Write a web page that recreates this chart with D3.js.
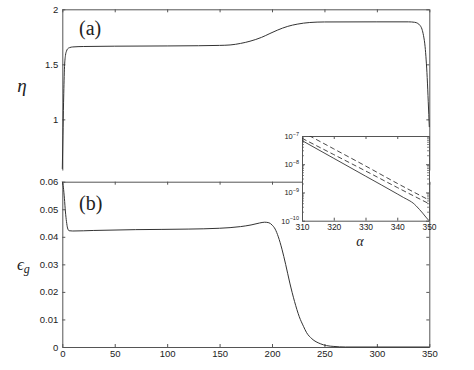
<!DOCTYPE html>
<html>
<head>
<meta charset="utf-8">
<script src="https://cdn.jsdelivr.net/npm/d3@7"></script>
<style>
  html, body { margin: 0; padding: 0; background: #fff; }
  svg { display: block; }
</style>
</head>
<body>
<svg id="chart" width="474" height="370"></svg>
<script>
// panel (a): eta vs x
const etaX = [0, 0.6, 1.2, 2, 3, 4, 5, 7, 10, 20, 50, 100, 130, 150, 160, 170, 179, 190, 198, 205, 215, 224, 236, 250, 300, 330, 336, 339, 341, 343, 344.5, 346, 347, 348, 349, 350];
const etaY = [0.55, 0.85, 1.15, 1.45, 1.58, 1.62, 1.64, 1.652, 1.658, 1.662, 1.665, 1.667, 1.669, 1.672, 1.676, 1.69, 1.71, 1.745, 1.78, 1.81, 1.845, 1.865, 1.88, 1.885, 1.886, 1.886, 1.882, 1.872, 1.855, 1.82, 1.76, 1.66, 1.54, 1.38, 1.16, 0.93];

// panel (b): eps_g vs x
const epsX = [0, 1, 2, 3, 4, 5, 6.5, 10, 30, 70, 120, 150, 170, 180, 188, 193, 197, 200, 203, 206, 209.5, 213, 217, 221.5, 226, 230, 233, 238, 246, 252, 259, 270, 350];
const epsY = [0.06, 0.058, 0.054, 0.049, 0.0455, 0.0432, 0.0422, 0.0421, 0.0423, 0.0426, 0.0428, 0.0431, 0.0437, 0.0443, 0.045, 0.0453, 0.0451, 0.0443, 0.0428, 0.04, 0.0355, 0.03, 0.0232, 0.0165, 0.011, 0.0075, 0.0052, 0.003, 0.0012, 0.0005, 0.0002, 0, 0];

// inset: three curves vs alpha (log scale)
const alphaSolid = [310, 320, 330, 340, 342, 344, 345, 346, 347, 348, 349, 350];
const valSolid = [6.9e-8, 1.62e-8, 3.8e-9, 8.9e-10, 6.6e-10, 5.0e-10, 4.2e-10, 3.3e-10, 2.5e-10, 1.86e-10, 1.35e-10, 1.0e-10];
const alphaDash = [310, 320, 330, 340, 350];
const valDashLow = [8.3e-8, 2.2e-8, 5.8e-9, 1.5e-9, 4.0e-10];
const valDashHigh = [1.41e-7, 3.5e-8, 8.7e-9, 2.1e-9, 5.4e-10];

const xTicks = [0, 50, 100, 150, 200, 250, 300, 350];
const etaTicks = [1, 1.5, 2];
const epsTicks = [0, 0.01, 0.02, 0.03, 0.04, 0.05, 0.06];
const alphaTicks = [310, 320, 330, 340, 350];
const logTicks = [-10, -9, -8, -7];

const svg = d3.select("#chart");
const axisColor = "#555";
const lineColor = "#333";
const tickFont = "'Liberation Sans', Arial, sans-serif";
const serif = "'Liberation Serif', 'DejaVu Serif', serif";

const x = d3.scaleLinear().domain([0, 350]).range([62.3, 429.3]);
const yA = d3.scaleLinear().domain([0.54, 2]).range([170, 9.3]);
const yB = d3.scaleLinear().domain([0, 0.06]).range([347, 181.7]);

function styleAxis(g) {
  g.select(".domain").attr("stroke", axisColor);
  g.selectAll(".tick line").attr("stroke", axisColor);
  g.selectAll(".tick text").attr("fill", "#222").style("font-family", tickFont).style("font-size", "9.5px");
}

// ---- panel (a)
const gA = svg.append("g");
gA.append("g")
  .attr("transform", `translate(${x(0)},0)`)
  .call(d3.axisLeft(yA).tickValues(etaTicks).tickFormat(d3.format("")).tickSizeInner(-3).tickSizeOuter(0).tickPadding(4))
  .call(styleAxis);
gA.append("g")
  .attr("transform", `translate(${x(350)},0)`)
  .call(d3.axisRight(yA).tickValues(etaTicks).tickFormat("").tickSizeInner(-3).tickSizeOuter(0))
  .call(styleAxis);
gA.append("g")
  .attr("transform", `translate(0,${yA(2)})`)
  .call(d3.axisTop(x).tickValues(xTicks).tickFormat("").tickSizeInner(-3).tickSizeOuter(0))
  .call(styleAxis);

const lineA = d3.line().x((d, i) => x(etaX[i])).y(d => yA(d)).curve(d3.curveMonotoneX);
gA.append("path").datum(etaY).attr("d", lineA)
  .attr("fill", "none").attr("stroke", lineColor).attr("stroke-width", 1);

gA.append("text").attr("x", 79).attr("y", 35)
  .style("font-family", serif).style("font-size", "20px").attr("fill", "#222").text("(a)");
gA.append("text").attr("x", 22).attr("y", 92).attr("text-anchor", "middle")
  .style("font-family", serif).style("font-style", "italic").style("font-size", "19px").attr("fill", "#222").text("η");

// ---- panel (b)
const gB = svg.append("g");
gB.append("g")
  .attr("transform", `translate(${x(0)},0)`)
  .call(d3.axisLeft(yB).tickValues(epsTicks).tickFormat(d => d === 0 ? "0" : d3.format(".2f")(d)).tickSizeInner(-3).tickSizeOuter(0).tickPadding(4))
  .call(styleAxis);
gB.append("g")
  .attr("transform", `translate(${x(350)},0)`)
  .call(d3.axisRight(yB).tickValues(epsTicks).tickFormat("").tickSizeInner(-3).tickSizeOuter(0))
  .call(styleAxis);
gB.append("g")
  .attr("transform", `translate(0,${yB(0.06)})`)
  .call(d3.axisTop(x).tickValues(xTicks).tickFormat("").tickSizeInner(-3).tickSizeOuter(0))
  .call(styleAxis);
gB.append("g")
  .attr("transform", `translate(0,${yB(0)})`)
  .call(d3.axisBottom(x).tickValues(xTicks).tickFormat(d3.format("d")).tickSizeInner(-3).tickSizeOuter(0).tickPadding(3))
  .call(styleAxis);

const lineB = d3.line().x((d, i) => x(epsX[i])).y(d => yB(d)).curve(d3.curveMonotoneX);
gB.append("path").datum(epsY).attr("d", lineB)
  .attr("fill", "none").attr("stroke", lineColor).attr("stroke-width", 1);

gB.append("text").attr("x", 79).attr("y", 210)
  .style("font-family", serif).style("font-size", "20px").attr("fill", "#222").text("(b)");
const epsLabel = gB.append("text").attr("x", 17).attr("y", 270)
  .style("font-family", serif).style("font-style", "italic").style("font-size", "17px").attr("fill", "#222");
epsLabel.append("tspan").text("ϵ");
epsLabel.append("tspan").attr("dy", 3).style("font-size", "12px").text("g");

// ---- inset
const xi = d3.scaleLinear().domain([310, 350]).range([302, 429]);
const yi = d3.scaleLog().domain([1e-10, 1e-7]).range([220.7, 136]);

const gI = svg.append("g");
gI.append("rect").attr("x", xi(310)).attr("y", yi(1e-7))
  .attr("width", xi(350) - xi(310)).attr("height", yi(1e-10) - yi(1e-7)).attr("fill", "#fff");

gI.append("clipPath").attr("id", "insetClip").append("rect")
  .attr("x", xi(310)).attr("y", yi(1e-7))
  .attr("width", xi(350) - xi(310)).attr("height", yi(1e-10) - yi(1e-7));

// minor log ticks
const minor = [];
logTicks.slice(0, 3).forEach(p => { for (let m = 2; m <= 9; m++) minor.push(m * Math.pow(10, p)); });
[xi(310), xi(350)].forEach((xx, k) => {
  gI.append("g").selectAll("line").data(minor).join("line")
    .attr("x1", xx).attr("x2", xx + (k === 0 ? 2 : -2))
    .attr("y1", d => yi(d)).attr("y2", d => yi(d))
    .attr("stroke", axisColor).attr("stroke-width", 0.7);
});

gI.append("g")
  .attr("transform", `translate(${xi(310)},0)`)
  .call(d3.axisLeft(yi).tickValues(logTicks.map(p => Math.pow(10, p))).tickFormat("").tickSizeInner(-3).tickSizeOuter(0))
  .call(styleAxis);
gI.append("g")
  .attr("transform", `translate(${xi(350)},0)`)
  .call(d3.axisRight(yi).tickValues(logTicks.map(p => Math.pow(10, p))).tickFormat("").tickSizeInner(-3).tickSizeOuter(0))
  .call(styleAxis);
gI.append("g")
  .attr("transform", `translate(0,${yi(1e-7)})`)
  .call(d3.axisTop(xi).tickValues(alphaTicks).tickFormat("").tickSizeInner(-3).tickSizeOuter(0))
  .call(styleAxis);
gI.append("g")
  .attr("transform", `translate(0,${yi(1e-10)})`)
  .call(d3.axisBottom(xi).tickValues(alphaTicks).tickFormat(d3.format("d")).tickSizeInner(-3).tickSizeOuter(0).tickPadding(3))
  .call(styleAxis)
  .call(g => g.selectAll(".tick text").style("font-size", "8.5px"));

// log tick labels 10^p
const yl = gI.append("g").selectAll("text").data(logTicks).join("text")
  .attr("x", xi(310) - 3).attr("y", d => yi(Math.pow(10, d)) + 3)
  .attr("text-anchor", "end")
  .style("font-family", tickFont).style("font-size", "7.5px").attr("fill", "#222");
yl.append("tspan").text("10");
yl.append("tspan").attr("dy", -3.5).style("font-size", "5.5px").text(d => "\u2212" + Math.abs(d));

const clipped = gI.append("g").attr("clip-path", "url(#insetClip)");
const lineI = xs => d3.line().x((d, i) => xi(xs[i])).y(d => yi(d)).curve(d3.curveMonotoneX);
clipped.append("path").datum(valSolid).attr("d", lineI(alphaSolid))
  .attr("fill", "none").attr("stroke", lineColor).attr("stroke-width", 0.9);
clipped.append("path").datum(valDashLow).attr("d", lineI(alphaDash))
  .attr("fill", "none").attr("stroke", lineColor).attr("stroke-width", 0.9).attr("stroke-dasharray", "5,3");
clipped.append("path").datum(valDashHigh).attr("d", lineI(alphaDash))
  .attr("fill", "none").attr("stroke", lineColor).attr("stroke-width", 0.9).attr("stroke-dasharray", "5,3");

gI.append("text").attr("x", 360).attr("y", 246).attr("text-anchor", "middle")
  .style("font-family", serif).style("font-style", "italic").style("font-size", "14px").attr("fill", "#222").text("α");
</script>
</body>
</html>
